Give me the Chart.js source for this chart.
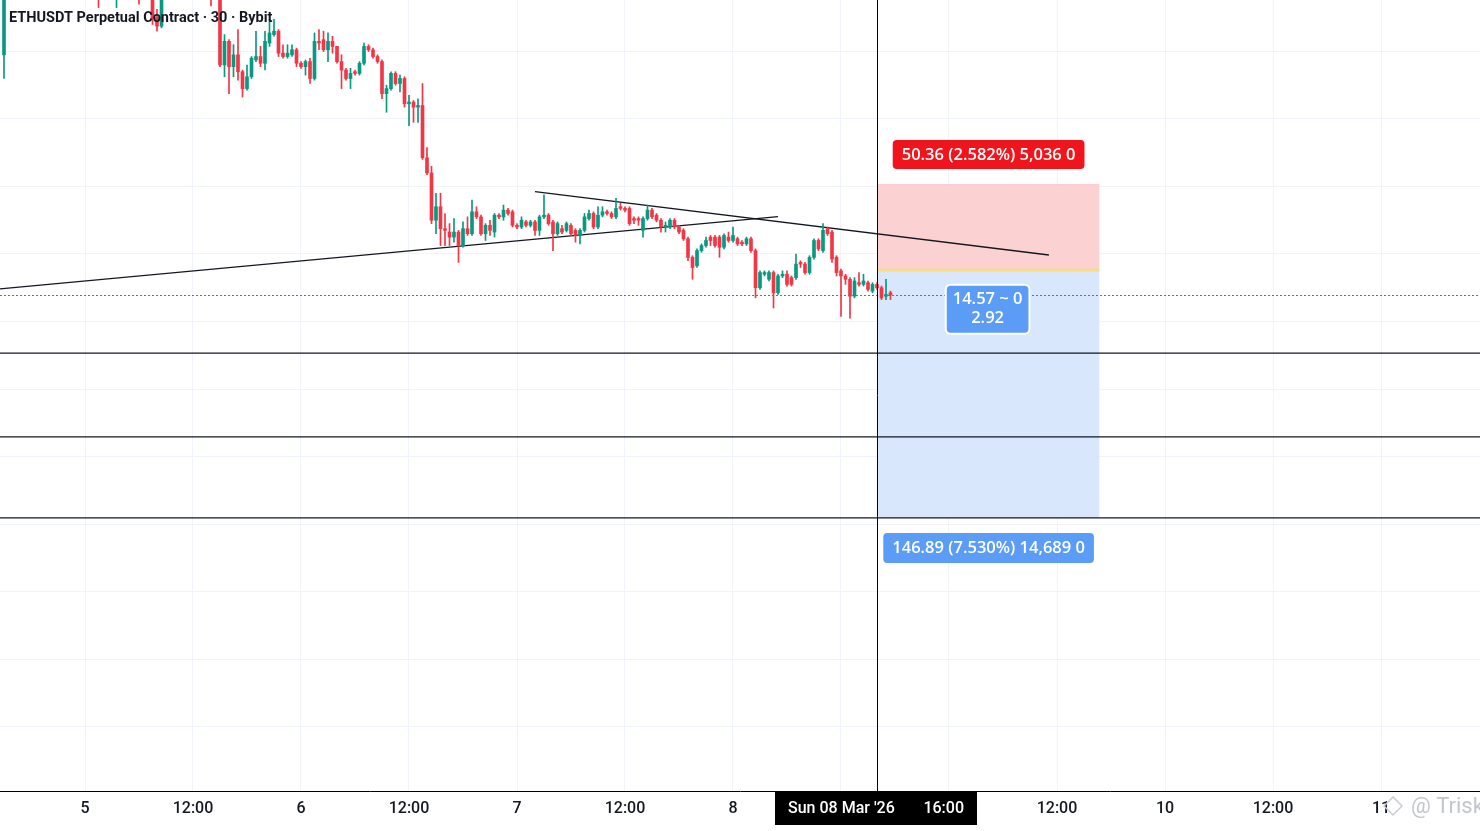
<!DOCTYPE html>
<html>
<head>
<meta charset="utf-8">
<title>ETHUSDT Perpetual Contract · 30 · Bybit</title>
<script src="https://cdn.jsdelivr.net/npm/chart.js@4.4.1/dist/chart.umd.min.js"></script>
<style>
    html, body { margin: 0; padding: 0; background: #ffffff; overflow: hidden; }
    #wrap { position: relative; width: 1480px; height: 831px; }
    #ethChart { display: block; }
</style>
</head>
<body>
<div id="wrap"><canvas id="ethChart" width="1480" height="831"></canvas></div>
<script>
// 30 min candles, first bar = 4 Mar 15:00 (hours are counted from 5 Mar 00:00)
const FIRST_BAR_HOUR = -9;
const BAR_STEP_HOURS = 0.5;

const candleOpen = [
    2078, 2122, 2125, 2131, 2134, 2128, 2137, 2140, 2134, 2131, 2137, 2143, 2140, 2134, 2128, 2131, 2125, 2122, 2128, 2125,
    2119, 2122, 2113, 2118, 2122, 2114, 2120, 2125, 2122, 2128, 2119, 2114, 2122, 2114, 2100, 2095, 2114, 2116, 2122, 2128,
    2125, 2131, 2134, 2128, 2122, 2125, 2119, 2112, 2116, 2072, 2086, 2071, 2078, 2068, 2058, 2065, 2075, 2077, 2073, 2085,
    2090, 2092, 2079, 2077, 2078, 2081, 2073, 2071, 2074, 2064, 2086, 2087, 2081, 2086, 2083, 2074, 2069, 2064, 2068, 2067,
    2073, 2083, 2081, 2077, 2074, 2055, 2058, 2067, 2061, 2064, 2049, 2050, 2047, 2048, 2017, 2008, 1980, 1988, 1975, 1973,
    1970, 1973, 1965, 1975, 1972, 1985, 1982, 1972, 1977, 1973, 1983, 1982, 1986, 1985, 1977, 1976, 1979, 1977, 1979, 1974,
    1982, 1983, 1979, 1972, 1975, 1974, 1977, 1974, 1971, 1974, 1981, 1984, 1976, 1983, 1985, 1984, 1982, 1988, 1987, 1987,
    1981, 1981, 1974, 1981, 1986, 1983, 1980, 1976, 1976, 1980, 1976, 1974, 1969, 1958, 1953, 1962, 1965, 1970, 1970, 1970,
    1964, 1970, 1968, 1969, 1967, 1966, 1969, 1962, 1940, 1948, 1945, 1949, 1937, 1947, 1948, 1946, 1946, 1955, 1954, 1949,
    1958, 1968, 1962, 1975, 1973, 1958, 1950, 1947, 1945, 1935, 1943, 1942, 1943, 1938, 1942, 1940, 1935, 1937
];
const candleHigh = [
    2125, 2128, 2134, 2137, 2136, 2139, 2143, 2142, 2136, 2139, 2146, 2145, 2142, 2136, 2133, 2133, 2127, 2130, 2130, 2127,
    2124, 2124, 2121, 2124, 2124, 2124, 2127, 2127, 2130, 2130, 2120, 2124, 2124, 2116, 2105, 2116, 2119, 2124, 2130, 2130,
    2133, 2137, 2136, 2130, 2127, 2127, 2121, 2120, 2118, 2090, 2087, 2084, 2093, 2069, 2072, 2077, 2092, 2083, 2092, 2099,
    2099, 2093, 2084, 2084, 2084, 2082, 2074, 2075, 2076, 2091, 2093, 2092, 2091, 2089, 2083, 2078, 2070, 2070, 2069, 2074,
    2085, 2084, 2082, 2078, 2075, 2060, 2068, 2068, 2066, 2065, 2054, 2051, 2052, 2061, 2023, 2012, 1996, 1996, 1984, 1978,
    1981, 1974, 1979, 1982, 1992, 1988, 1983, 1978, 1980, 1984, 1984, 1989, 1987, 1986, 1978, 1982, 1980, 1980, 1980, 1983,
    1995, 1984, 1980, 1979, 1977, 1979, 1978, 1975, 1975, 1984, 1986, 1985, 1988, 1988, 1986, 1985, 1993, 1990, 1988, 1988,
    1982, 1982, 1982, 1989, 1987, 1984, 1981, 1979, 1981, 1981, 1977, 1975, 1970, 1959, 1963, 1966, 1970, 1971, 1971, 1971,
    1972, 1973, 1976, 1970, 1968, 1970, 1970, 1963, 1950, 1950, 1950, 1950, 1948, 1950, 1950, 1947, 1960, 1956, 1955, 1959,
    1969, 1969, 1978, 1976, 1974, 1959, 1951, 1948, 1946, 1946, 1949, 1948, 1944, 1943, 1943, 1941, 1945, 1938
];
const candleLow = [
    2064, 2119, 2123, 2129, 2126, 2126, 2135, 2131, 2129, 2129, 2135, 2138, 2132, 2125, 2126, 2122, 2119, 2120, 2123, 2116,
    2117, 2106, 2111, 2116, 2112, 2106, 2118, 2120, 2120, 2113, 2108, 2112, 2113, 2096, 2092, 2094, 2112, 2114, 2120, 2123,
    2123, 2129, 2126, 2120, 2120, 2117, 2107, 2111, 2071, 2065, 2055, 2065, 2063, 2053, 2057, 2064, 2074, 2071, 2069, 2083,
    2089, 2077, 2076, 2076, 2077, 2071, 2070, 2066, 2061, 2063, 2081, 2080, 2074, 2079, 2073, 2058, 2063, 2058, 2066, 2066,
    2072, 2080, 2076, 2073, 2052, 2044, 2057, 2060, 2056, 2047, 2036, 2038, 2038, 2016, 2007, 1978, 1972, 1965, 1965, 1965,
    1967, 1955, 1964, 1971, 1971, 1981, 1971, 1968, 1971, 1970, 1981, 1980, 1983, 1976, 1975, 1975, 1976, 1976, 1971, 1971,
    1981, 1977, 1962, 1971, 1972, 1973, 1971, 1967, 1966, 1973, 1980, 1975, 1975, 1982, 1983, 1981, 1981, 1986, 1985, 1977,
    1978, 1977, 1970, 1980, 1981, 1979, 1973, 1973, 1975, 1975, 1972, 1968, 1956, 1945, 1952, 1961, 1964, 1965, 1964, 1958,
    1963, 1967, 1967, 1965, 1965, 1965, 1961, 1934, 1939, 1947, 1944, 1928, 1936, 1946, 1941, 1941, 1945, 1952, 1948, 1948,
    1957, 1962, 1961, 1971, 1955, 1947, 1923, 1942, 1922, 1934, 1941, 1941, 1938, 1937, 1939, 1933, 1933, 1933
];
const candleClose = [
    2122, 2125, 2131, 2134, 2128, 2137, 2140, 2134, 2131, 2137, 2143, 2140, 2134, 2128, 2131, 2125, 2122, 2128, 2125, 2119,
    2122, 2113, 2118, 2122, 2116, 2120, 2125, 2122, 2128, 2119, 2114, 2122, 2116, 2100, 2095, 2114, 2116, 2122, 2128, 2125,
    2131, 2134, 2128, 2122, 2125, 2119, 2112, 2116, 2072, 2086, 2071, 2078, 2068, 2058, 2065, 2076, 2077, 2073, 2086, 2091,
    2092, 2079, 2077, 2079, 2081, 2073, 2071, 2074, 2064, 2086, 2085, 2081, 2086, 2083, 2074, 2069, 2064, 2067, 2067, 2073,
    2083, 2081, 2077, 2074, 2055, 2058, 2067, 2061, 2064, 2049, 2050, 2047, 2048, 2017, 2008, 1980, 1988, 1975, 1974, 1970,
    1973, 1965, 1975, 1972, 1985, 1982, 1972, 1977, 1974, 1983, 1982, 1986, 1984, 1977, 1976, 1980, 1977, 1979, 1974, 1982,
    1983, 1978, 1972, 1978, 1973, 1978, 1972, 1971, 1974, 1982, 1984, 1976, 1983, 1985, 1984, 1982, 1987, 1987, 1986, 1978,
    1980, 1980, 1981, 1986, 1982, 1980, 1976, 1977, 1980, 1976, 1973, 1969, 1958, 1952, 1962, 1965, 1968, 1968, 1965, 1964,
    1971, 1968, 1971, 1966, 1966, 1969, 1962, 1940, 1949, 1949, 1949, 1937, 1947, 1948, 1942, 1942, 1954, 1954, 1949, 1958,
    1968, 1963, 1974, 1972, 1957, 1949, 1947, 1945, 1935, 1944, 1942, 1944, 1939, 1942, 1940, 1934, 1936, 1935.9
];

// x axis (hours from 5 Mar 00:00) and its labels
const xTickHours = [0, 12, 24, 36, 48, 60, 72, 84, 96, 108, 120, 132, 144];
const xTickLabels = ['5', '12:00', '6', '12:00', '7', '12:00', '8', '12:00', '9', '12:00', '10', '12:00', '11'];
const X_MIN_HOUR = -85 / 9;
const X_MAX_HOUR = 155;

// price range and horizontal grid levels
const PRICE_MIN = 1641.8;
const PRICE_MAX = 2110.5;
const priceGridLevels = [2080, 2040, 2000, 1960, 1920, 1880, 1840, 1800, 1760, 1720, 1680];

// drawings
const risingLineHours = [X_MIN_HOUR, 77.0];
const risingLinePrices = [1939.3, 1982.1];
const fallingLineHours = [50.0, 107.1];
const fallingLinePrices = [1997.0, 1959.4];
const levelPrices = [1901.3, 1851.6, 1803.6];

// short position tool
const POSITION_START_HOUR = 88.1;
const POSITION_END_HOUR = 112.7;
const ENTRY_PRICE = 1950.5;
const STOP_PRICE = 2000.9;
const TARGET_PRICE = 1803.6;
const LAST_PRICE = 1935.9;
const CROSSHAIR_HOUR = 88;

const stopLabel = '50.36 (2.582%) 5,036 0';
const targetLabel = '146.89 (7.530%) 14,689 0';
const openLabel = ['14.57 ~ 0', '2.92'];

const UP_COLOR = '#089981';
const DOWN_COLOR = '#f23645';
const GRID_COLOR = '#f0f3fa';
const FONT_FAMILY = 'Roboto, "Noto Sans", "Liberation Sans", sans-serif';
const LABEL_FONT = '"Open Sans", Roboto, sans-serif';

const barHours = candleOpen.map(function (_, i) {
    return FIRST_BAR_HOUR + i * BAR_STEP_HOURS;
});

function candleColor(context) {
    const i = context.dataIndex;
    return candleClose[i] >= candleOpen[i] ? UP_COLOR : DOWN_COLOR;
}

function roundedBox(ctx, x, y, w, h, r) {
    ctx.beginPath();
    ctx.moveTo(x + r, y);
    ctx.lineTo(x + w - r, y);
    ctx.quadraticCurveTo(x + w, y, x + w, y + r);
    ctx.lineTo(x + w, y + h - r);
    ctx.quadraticCurveTo(x + w, y + h, x + w - r, y + h);
    ctx.lineTo(x + r, y + h);
    ctx.quadraticCurveTo(x, y + h, x, y + h - r);
    ctx.lineTo(x, y + r);
    ctx.quadraticCurveTo(x, y, x + r, y);
    ctx.closePath();
}

const tvOverlay = {
    id: 'tvOverlay',
    beforeDatasetsDraw(chart) {
        const { ctx, scales: { x, y } } = chart;
        const left = x.getPixelForValue(POSITION_START_HOUR);
        const right = x.getPixelForValue(POSITION_END_HOUR);
        const yStop = y.getPixelForValue(STOP_PRICE);
        const yEntry = y.getPixelForValue(ENTRY_PRICE);
        const yTarget = y.getPixelForValue(TARGET_PRICE);

        ctx.save();
        ctx.fillStyle = '#fbd1d2';
        ctx.fillRect(left, yStop, right - left, yEntry - yStop);
        ctx.fillStyle = '#d8e7fb';
        ctx.fillRect(left, yEntry, right - left, yTarget - yEntry);

        ctx.fillStyle = 'rgba(242, 54, 69, .25)';
        ctx.fillRect(left, yStop - 1, right - left, 1);
        ctx.fillStyle = '#f6dc85';
        ctx.fillRect(left, yEntry - 1.5, right - left, 3);
        ctx.restore();
    },
    afterDatasetsDraw(chart) {
        const { ctx, chartArea, scales: { x, y } } = chart;
        const yLast = Math.round(y.getPixelForValue(LAST_PRICE)) + 0.5;
        const xCross = Math.round(x.getPixelForValue(CROSSHAIR_HOUR)) + 0.5;

        ctx.save();
        ctx.strokeStyle = DOWN_COLOR;
        ctx.lineWidth = 1;
        ctx.setLineDash([2, 2]);
        ctx.beginPath();
        ctx.moveTo(chartArea.left, yLast);
        ctx.lineTo(chartArea.right, yLast);
        ctx.stroke();

        ctx.setLineDash([]);
        ctx.strokeStyle = '#000000';
        ctx.beginPath();
        ctx.moveTo(xCross, chartArea.top);
        ctx.lineTo(xCross, chartArea.bottom);
        ctx.stroke();
        ctx.restore();
    },
    afterDraw(chart) {
        const { ctx, chartArea, scales: { x, y } } = chart;
        const left = x.getPixelForValue(POSITION_START_HOUR);
        const right = x.getPixelForValue(POSITION_END_HOUR);
        const mid = (left + right) / 2;
        const yStop = y.getPixelForValue(STOP_PRICE);
        const yTarget = y.getPixelForValue(TARGET_PRICE);
        const yLast = y.getPixelForValue(LAST_PRICE);

        ctx.save();
        ctx.textAlign = 'center';
        ctx.textBaseline = 'middle';
        ctx.font = '600 16.5px ' + LABEL_FONT;

        // stop label
        let w = ctx.measureText(stopLabel).width + 18;
        ctx.fillStyle = '#f0141c';
        roundedBox(ctx, mid - w / 2, yStop - 45, w, 29, 4);
        ctx.fill();
        ctx.fillStyle = '#ffffff';
        ctx.fillText(stopLabel, mid, yStop - 30);

        // target label
        w = ctx.measureText(targetLabel).width + 18;
        ctx.fillStyle = '#5b9cf6';
        roundedBox(ctx, mid - w / 2, yTarget + 15, w, 30, 4);
        ctx.fill();
        ctx.fillStyle = '#ffffff';
        ctx.fillText(targetLabel, mid, yTarget + 30.5);

        // open p&l label
        w = ctx.measureText(openLabel[0]).width + 14;
        ctx.fillStyle = '#5b9cf6';
        ctx.strokeStyle = '#ffffff';
        ctx.lineWidth = 2;
        roundedBox(ctx, mid - w / 2 - 1, yLast - 10, w, 49, 5);
        ctx.fill();
        ctx.stroke();
        ctx.fillStyle = '#ffffff';
        ctx.fillText(openLabel[0], mid - 1, yLast + 5);
        ctx.fillText(openLabel[1], mid - 1, yLast + 24);

        // legend title
        ctx.textAlign = 'left';
        ctx.fillStyle = '#131722';
        ctx.font = '700 14.5px ' + FONT_FAMILY;
        ctx.fillText('ETHUSDT Perpetual Contract · 30 · Bybit', 9, 18);

        // crosshair time label
        const xCross = x.getPixelForValue(CROSSHAIR_HOUR);
        ctx.fillStyle = '#000000';
        ctx.fillRect(xCross - 102, chartArea.bottom + 1, 202, 33);
        ctx.fillStyle = '#ffffff';
        ctx.font = '500 16px ' + FONT_FAMILY;
        ctx.fillText("Sun 08 Mar '26", xCross - 89, chartArea.bottom + 18);
        ctx.textAlign = 'right';
        ctx.fillText('16:00', xCross + 87, chartArea.bottom + 18);

        // watermark
        ctx.textAlign = 'left';
        ctx.fillStyle = '#c3c6cd';
        ctx.font = '22px ' + FONT_FAMILY;
        ctx.fillText('@ Trisk', 1411, chartArea.bottom + 16);
        ctx.strokeStyle = '#c9ccd3';
        ctx.lineWidth = 1.5;
        ctx.beginPath();
        ctx.moveTo(1393, chartArea.bottom + 6);
        ctx.lineTo(1402, chartArea.bottom + 15);
        ctx.lineTo(1393, chartArea.bottom + 24);
        ctx.lineTo(1384, chartArea.bottom + 15);
        ctx.closePath();
        ctx.stroke();
        ctx.restore();
    }
};

function lineDataset(hours, prices) {
    return {
        type: 'line',
        data: hours.map(function (h, i) { return { x: h, y: prices[i] }; }),
        borderColor: '#131722',
        borderWidth: 1.3,
        pointRadius: 0,
        fill: false,
        tension: 0
    };
}

function createEthChart() {
    const canvas = document.getElementById('ethChart');
    if (!canvas || typeof Chart === 'undefined') return;

    const datasets = [
        {
            label: 'body',
            data: barHours.map(function (h, i) { return { x: h, y: [candleOpen[i], candleClose[i]] }; }),
            backgroundColor: candleColor,
            borderWidth: 0,
            barThickness: 3,
            minBarLength: 1,
            grouped: false
        },
        {
            label: 'wick',
            data: barHours.map(function (h, i) { return { x: h, y: [candleLow[i], candleHigh[i]] }; }),
            backgroundColor: candleColor,
            borderWidth: 0,
            barThickness: 1,
            grouped: false
        },
        lineDataset(risingLineHours, risingLinePrices),
        lineDataset(fallingLineHours, fallingLinePrices)
    ];

    levelPrices.forEach(function (price) {
        datasets.push(lineDataset([X_MIN_HOUR, X_MAX_HOUR], [price, price]));
    });

    window.ethChart = new Chart(canvas, {
        type: 'bar',
        data: { datasets: datasets },
        options: {
            responsive: false,
            animation: false,
            devicePixelRatio: 1,
            layout: { padding: 0 },
            plugins: {
                legend: { display: false },
                tooltip: { enabled: false }
            },
            scales: {
                x: {
                    type: 'linear',
                    min: X_MIN_HOUR,
                    max: X_MAX_HOUR,
                    offset: false,
                    afterFit: function (scale) { scale.height = 40; },
                    afterBuildTicks: function (scale) {
                        scale.ticks = xTickHours.map(function (v) { return { value: v }; });
                    },
                    ticks: {
                        autoSkip: false,
                        maxRotation: 0,
                        padding: 8,
                        color: '#131722',
                        font: { family: FONT_FAMILY, size: 16, weight: '500' },
                        callback: function (value) {
                            const i = xTickHours.indexOf(value);
                            return i >= 0 ? xTickLabels[i] : '';
                        }
                    },
                    grid: { color: GRID_COLOR, offset: false, drawTicks: false },
                    border: { display: true, color: '#000000', width: 1 }
                },
                y: {
                    position: 'right',
                    min: PRICE_MIN,
                    max: PRICE_MAX,
                    afterFit: function (scale) { scale.width = 0; },
                    afterBuildTicks: function (scale) {
                        scale.ticks = priceGridLevels.map(function (v) { return { value: v }; });
                    },
                    ticks: { display: false },
                    grid: { color: GRID_COLOR, drawTicks: false },
                    border: { display: false }
                }
            }
        },
        plugins: [tvOverlay]
    });
}

createEthChart();
</script>
</body>
</html>
